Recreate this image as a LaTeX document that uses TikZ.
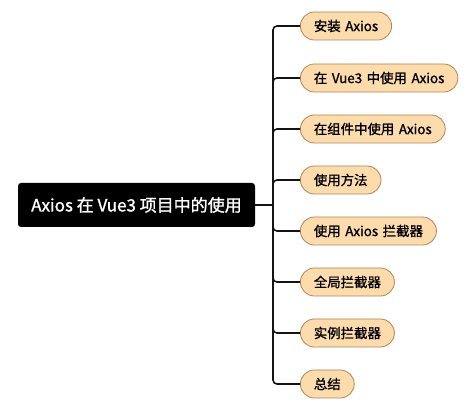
\documentclass[tikz,border=0pt]{standalone}
\usepackage{fontspec}
\setmainfont{Noto Sans CJK SC}
\newfontfamily\mapfont[FakeBold=1.2]{Noto Sans CJK SC}
\newcommand\topicspace{\spaceskip 4.6pt\relax}
\usepackage{xcolor}
\usetikzlibrary{positioning}
\definecolor{topicpeach}{RGB}{252, 219, 172}
\definecolor{topicedge}{RGB}{176, 132, 82}
\definecolor{branchgray}{RGB}{20, 20, 20}

\begin{document}
\begin{tikzpicture}[
    x=1pt, y=-1pt,
    rootbox/.style={rectangle, fill=black, text=white, minimum width=237pt,
                    minimum height=44pt, rounded corners=3pt,
                    font=\mapfont\fontsize{17}{20}\selectfont},
    topic/.style={rectangle, draw=topicedge, fill=topicpeach, line width=0.8pt,
                  minimum height=28pt, inner xsep=13.5pt, rounded corners=14pt,
                  anchor=west, font=\mapfont\fontsize{13.4}{15}\selectfont\topicspace},
    branch/.style={draw=branchgray, line width=1.6pt, rounded corners=4pt},
]
\useasboundingbox (0,0) rectangle (474,411);

\node[rootbox] (root) at (136.5,205) {Axios 在 Vue3 项目中的使用};

\node[topic] (t1) at (300,26)  {安装 Axios};
\node[topic] (t2) at (300,78)  {在 Vue3 中使用 Axios};
\node[topic] (t3) at (300,129) {在组件中使用 Axios};
\node[topic] (t4) at (300,180) {使用方法};
\node[topic] (t5) at (300,231) {使用 Axios 拦截器};
\node[topic] (t6) at (300,282) {全局拦截器};
\node[topic] (t7) at (300,333) {实例拦截器};
\node[topic] (t8) at (300,384) {总结};

\coordinate (trunk) at (273,205);
\draw[branch] (root.east) -- (trunk);
\foreach \t in {t1,t2,t3,t4,t5,t6,t7,t8}
  \draw[branch] (trunk) |- (\t.west);

\end{tikzpicture}
\end{document}
